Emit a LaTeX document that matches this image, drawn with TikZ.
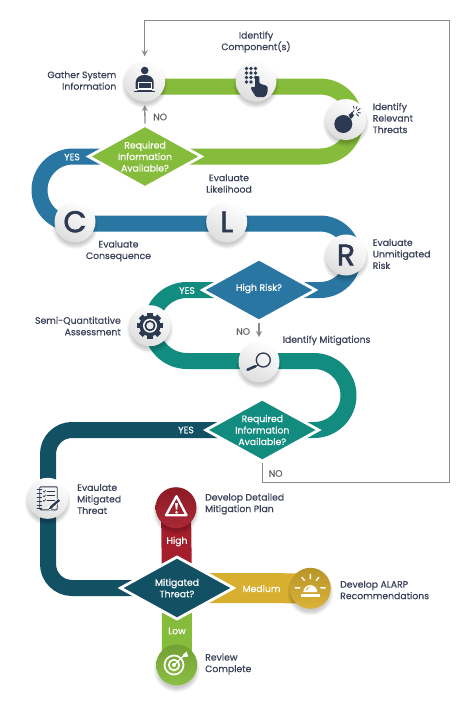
\documentclass[tikz,border=0pt]{standalone}
\usepackage{fontspec}
\setmainfont{Poppins}[FakeBold=0.45]
\newfontfamily\bigf{Poppins}[FakeBold=1.6]
\usetikzlibrary{shapes.geometric,arrows.meta,calc}
\definecolor{cgreen}{HTML}{86BC3B}
\definecolor{cblue}{HTML}{2A76A2}
\definecolor{cteal}{HTML}{128C7E}
\definecolor{cdark}{HTML}{125064}
\definecolor{cred}{HTML}{A51E2B}
\definecolor{cgold}{HTML}{D9AF2F}
\definecolor{ctext}{HTML}{3A4158}
\definecolor{cicon}{HTML}{2C3950}
\definecolor{cline}{HTML}{8A8A8A}
\pgfdeclarelayer{bg}\pgfdeclarelayer{sh}
\pgfsetlayers{bg,sh,main}
\newcommand{\softshadow}[1]{%
  \begin{pgfonlayer}{sh}
  \foreach \rr in {19,20,21,22,23}{\fill[black,opacity=.045] ($(#1)+(0,4)$) circle[radius=\rr pt];}
  \end{pgfonlayer}}
\tikzset{
  x=1pt,y=-1pt,
  track/.style={line width=16pt,line join=round},
  disc/.style={circle,inner sep=0,minimum size=41pt,top color=white,bottom color=black!13,shading angle=-25},
  rdisc/.style={circle,inner sep=0,minimum size=41pt,top color=#1!85!black,bottom color=#1!95!white},
  dia/.style={diamond,inner sep=0,minimum width=114pt,minimum height=63.2pt,draw=white,line width=2.8pt,fill=#1,miter limit=10},
  lab/.style={font=\fontsize{9.3}{11.5}\selectfont,text=ctext,inner sep=0,align=left,anchor=west},
  labr/.style={lab,align=right,anchor=east},
  labc/.style={lab,align=center,anchor=center},
  wlab/.style={font=\fontsize{9.3}{11.5}\selectfont,text=white,inner sep=0,align=center},
  glab/.style={lab,text=black!60},
  biglet/.style={text=cicon,inner sep=0,font=\bigf\fontsize{30}{30}\selectfont},
  feed/.style={draw=cline,line width=1.3pt},
  arr/.style={feed,-{Stealth[length=6pt,width=6pt]}},
  ic/.style={fill=cicon,draw=none},
  icl/.style={draw=cicon,fill=none,line cap=round,line join=round},
  wl/.style={draw=white,fill=none,line cap=round,line join=round},
}
\begin{document}
\begin{tikzpicture}
\useasboundingbox (0,0) rectangle (474,713);
% circles
\node[disc] (gather) at (144.7,81) {};
\node[disc] (comp) at (256,81) {};
\node[disc] (bomb) at (346,119.5) {};
\node[disc] (cons) at (75,221.7) {};
\node[disc] (like) at (226.7,221.7) {};
\node[disc] (risk) at (346,255) {};
\node[disc] (semi) at (150,325.7) {};
\node[disc] (miti) at (259,361.7) {};
\node[disc] (eval) at (47.7,498.3) {};
\node[rdisc=cred] (plan) at (176,507.7) {};
\node[rdisc=cgold] (alarp) at (310.3,588.3) {};
\node[rdisc=cgreen] (done) at (176.7,665) {};
\foreach \n in {gather,comp,bomb,cons,like,risk,semi,miti,eval,plan,alarp,done}{\softshadow{\n}}
% diamonds
\node[dia=cgreen] (d1) at (145,156.5) {};
\node[dia=cblue] (d2) at (259,290) {};
\node[dia=cteal] (d3) at (262.3,430) {};
\node[dia=cdark] (d4) at (177,588) {};
% tracks and connectors
\begin{pgfonlayer}{bg}
\draw[track,cgreen] ([yshift=-5.5pt]gather.center) -- ([yshift=-5.5pt]comp.center) -- (320,86.5) arc[start angle=90,end angle=-90,radius=35pt] -- (d1.center);
\draw[track,cblue] (d1.center) -- (73,156.5) arc[start angle=90,end angle=270,radius=33.5pt] -- ([yshift=-1.8pt]like.center) -- (320,223.5) arc[start angle=90,end angle=-90,radius=33.25pt] -- (d2.center);
\draw[track,cteal] (d2.center) -- (187,290) arc[start angle=90,end angle=270,radius=35.5pt] -- (314,361) arc[start angle=90,end angle=-90,radius=34.5pt] -- (d3.center);
\draw[track,cdark] (d3.center) -- (72,430) arc[start angle=90,end angle=180,radius=24pt] -- (48,564) arc[start angle=180,end angle=270,radius=24pt] -- (d4.center);
\draw[line width=30pt,cred] (d4.center) -- (plan.center);
\draw[line width=30pt,cgold] (d4.center) -- (alarp.center);
\draw[line width=30pt,cgreen] (d4.center) -- (done.center);
\coordinate (f1) at (262.3,482.7);
\coordinate (f2) at (449.3,482.7);
\coordinate (f3) at (449.3,20.7);
\coordinate (f4) at (144.7,20.7);
\end{pgfonlayer}
\draw[arr,shorten >=4pt] (d3.south) -- (f1) -- (f2) -- (f3) -- (f4) -- (gather.north);
\draw[arr,shorten >=3.5pt] (d1.north) -- (gather.south);
\draw[arr,shorten >=4pt] (d2.south) -- (miti.north);
% labels
\node[labc] (t1) at (256,42) {Identify\\Component(s)};
\node[labr] (t2) at (116.5,80.5) {Gather System\\Information};
\node[lab] (t3) at (372.5,118) {Identify\\Relevant\\Threats};
\node[glab] (n1) at (153,117) {NO};
\node[wlab] (w1) at (d1) {Required\\Information\\Available?};
\node[wlab] (y1) at (72,157) {YES};
\node[labc] (t4) at (229,183.5) {Evaluate\\Likelihood};
\node[labc] (t5) at (118.5,251) {Evaluate\\Consequence};
\node[lab] (t6) at (372.5,254) {Evaluate\\Unmitigated\\Risk};
\node[wlab] (w2) at (259,288.5) {High Risk?};
\node[wlab] (y2) at (187,290.5) {YES};
\node[labr] (t7) at (121,326) {Semi-Quantitative\\Assessment};
\node[glab] (n2) at (236,331.5) {NO};
\node[lab] (t8) at (282.5,340.5) {Identify Mitigations};
\node[wlab] (w3) at (d3) {Required\\Information\\Available?};
\node[wlab] (y3) at (186,430) {YES};
\node[glab] (n3) at (268.5,473.5) {NO};
\node[lab] (t9) at (77,499) {Evaulate\\Mitigated\\Threat};
\node[lab] (t10) at (205,504) {Develop Detailed\\Mitigation Plan};
\node[wlab] (w4) at (177,541.5) {High};
\node[wlab] (w5) at (d4) {Mitigated\\Threat?};
\node[wlab] (w6) at (261.5,588.5) {Medium};
\node[lab] (t11) at (340,590) {Develop ALARP\\Recommendations};
\node[wlab] (w7) at (177,631) {Low};
\node[lab] (t12) at (205,664) {Review\\Complete};
\node[biglet] (lc) at (cons) {C};
\node[biglet] (ll) at (like) {L};
\node[biglet] (lr) at (risk) {R};
% person
\begin{scope}[shift={(gather.center)}]
\fill[ic] (0,-10.5) circle[radius=3.8pt];
\fill[ic,rounded corners=3pt] (-9,10) -- (-9,-2) -- (-4,-6) -- (4,-6) -- (9,-2) -- (9,10) -- cycle;
\draw[white,line width=.9pt,fill=cicon] (-6.5,1) rectangle (6.5,7.5);
\fill[white] (-10,8) rectangle (10,9.2);
\fill[ic] (-10.5,9.5) rectangle (10.5,10.8);
\end{scope}
% keypad
\begin{scope}[shift={(comp.center)}]
\foreach \a in {-9.5,-5,-0.5}{\foreach \b in {-12.5,-8,-3.5}{\fill[ic] (\a,\b) circle[radius=1.8pt];}}
\fill[ic] (-9.5,1) circle[radius=1.8pt]; \fill[ic] (-5,1) circle[radius=1.8pt];
\fill[ic,rounded corners=1.2pt] (-.8,-5) -- (3.4,-5) -- (3.4,2.5) -- (11.5,5) -- (11.5,12) -- (9,16) -- (0,16) -- (-5,8) -- (-5,5.5) -- (-.8,6.5) -- cycle;
\end{scope}
% bomb
\begin{scope}[shift={(bomb.center)}]
\fill[ic] (-2.7,4.5) circle[radius=9pt];
\fill[ic] (2.5,-4.5) -- (6,-7.5) -- (8,-4) -- (5,-.5) -- cycle;
\draw[icl,line width=.8pt] (6.5,-7) -- (8,-9);
\draw[icl,line width=.8pt] (10,-10.5) -- (11,-13) (11.5,-9) -- (14,-11) (12,-7) -- (14.5,-6.5) (10.5,-5.5) -- (12.5,-3.5) (8,-11) -- (7.5,-13.5);
\end{scope}
% gear
\begin{scope}[shift={(semi.center)}]
\foreach \a in {0,45,...,315}{\fill[ic,rotate=\a] (-2.7,-13.2) rectangle (2.7,-8);}
\fill[ic] (0,0) circle[radius=10.6pt];
\fill[white] (0,0) circle[radius=7pt];
\fill[ic] (0,0) circle[radius=5.6pt];
\fill[black!8] (0,0) circle[radius=3.6pt];
\end{scope}
% magnifier
\begin{scope}[shift={(miti.center)}]
\draw[icl,line width=1.3pt] (4.3,-1.7) circle[radius=7pt];
\draw[icl,line width=1pt] (-.5,3) -- (-3,4.5);
\draw[icl,line width=2.6pt] (-3.5,4.5) -- (-11.5,8);
\end{scope}
% notebook
\begin{scope}[shift={(eval.center)}]
\draw[icl,line width=.9pt,rounded corners=1pt] (-8,-11.5) rectangle (9.5,11.5);
\foreach \b in {-9,-5,-1,3,7,10}{\draw[icl,line width=.9pt] (-10.5,\b) -- (-6,\b);}
\foreach \b in {-7,-2.5,2}{\draw[icl,line width=.7pt] (-4.5,\b) -- (-3.5,\b+1) -- (-2.2,\b-1); \draw[icl,line width=1pt] (-.5,\b) -- (7,\b);}
\draw[white,line width=4pt] (12,1.5) -- (1,10.5);
\draw[icl,line width=2.4pt,line cap=butt] (11.6,1.7) -- (3,9);
\fill[ic] (3.6,7.2) -- (.4,11) -- (5,10) -- cycle;
\end{scope}
% warning
\begin{scope}[shift={(plan.center)}]
\draw[wl,line width=2.3pt] (.5,-11.5) -- (10.5,7.5) -- (-10,7.5) -- cycle;
\fill[white] (-.9,-4.5) -- (1.9,-4.5) -- (1.2,2) -- (-.2,2) -- cycle;
\fill[white] (.5,4.6) circle[radius=1.5pt];
\end{scope}
% alarm
\begin{scope}[shift={(alarp.center)}]
\fill[white] (-9.5,5.5) rectangle (9.5,8.5);
\fill[white] (-7,3.8) arc[start angle=180,end angle=0,radius=7pt] -- cycle;
\fill[cgold] (-4.5,2.5) arc[start angle=180,end angle=100,radius=4.5pt] -- (-.5,-1.5) arc[start angle=100,end angle=180,radius=2.5pt] -- cycle;
\draw[wl,line width=1.4pt] (0,-14) -- (0,-9.5) (-8.5,-11) -- (-6,-8) (8.5,-11) -- (6,-8) (-15,-.5) -- (-10.5,-.5) (15,-.5) -- (10.5,-.5);
\end{scope}
% target
\begin{scope}[shift={(done.center)}]
\draw[wl,line width=1.7pt] (-2.7,0) circle[radius=9.5pt];
\draw[wl,line width=1.7pt] (-2.7,0) circle[radius=5.3pt];
\fill[white] (-2.7,0) circle[radius=2pt];
\draw[wl,line width=1.2pt] (-2.7,0) -- (8,-10);
\fill[white] (6,-10) -- (10,-13.5) -- (11.5,-8.5) -- (8,-8) -- cycle;
\end{scope}
\end{tikzpicture}
\end{document}
